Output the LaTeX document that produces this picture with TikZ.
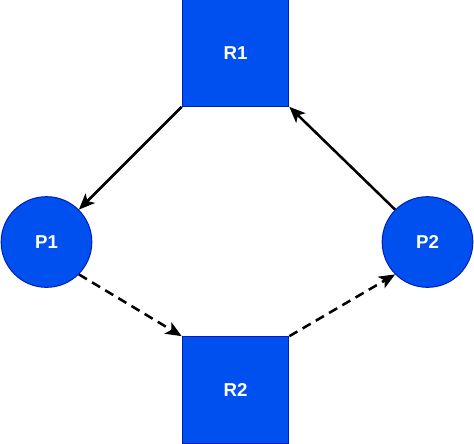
\documentclass[tikz,border=0pt]{standalone}
\usepackage{fontspec}
\setmainfont{Liberation Sans}
\usepackage{tikz}
\usetikzlibrary{arrows.meta, positioning, shapes, calc}
\definecolor{resfill}{RGB}{0,80,239}
\definecolor{resline}{RGB}{0,29,188}

\begin{document}
\begin{tikzpicture}[x=0.75pt, y=-0.75pt,
    res/.style={draw=resline, fill=resfill, line width=0.75pt, minimum size=80pt, inner sep=0pt,
        text=white, font=\fontsize{14}{16}\selectfont\bfseries},
    proc/.style={circle, draw=resline, fill=resfill, line width=0.75pt, minimum size=68pt, inner sep=0pt,
        text=white, font=\fontsize{14}{16}\selectfont\bfseries},
    edge/.style={line width=1.9pt, -{Stealth[length=12pt, width=10pt, inset=3pt]}}]
\useasboundingbox (0,0) rectangle (474,443);

% Resources
\node[res] (r1) at (235.5,53) {R1};
\node[res] (r2) at (235.5,390) {R2};

% Processes
\node[proc] (p1) at (46.5,242) {P1};
\node[proc] (p2) at (427.5,242) {P2};

% Arrows
\draw[edge] (r1.south west) -- (p1.north east);
\draw[edge] (p2.north west) -- (r1.south east);
\draw[edge, dash pattern=on 7pt off 4.5pt] (p1.south east) -- (r2.north west);
\draw[edge, dash pattern=on 7pt off 4.5pt] (r2.north east) -- (p2.south west);

\end{tikzpicture}
\end{document}
